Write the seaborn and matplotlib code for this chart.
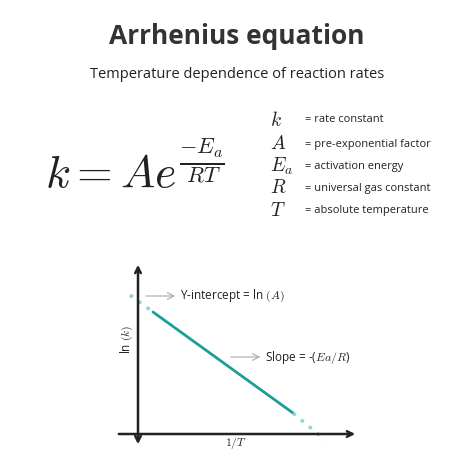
import matplotlib
matplotlib.use("Agg")
import matplotlib.pyplot as plt
import seaborn as sns

sns.set_theme(style="white")
plt.rcParams["font.family"] = ["Open Sans", "DejaVu Sans"]
plt.rcParams["mathtext.fontset"] = "cm"

TEAL = "#1a9e9a"
DOT = "#8fd3d0"

# line in plot units (origin = axes crossing)
solid_x = [0.15, 1.55]
solid_y = [1.22, 0.21]
dot_left_x = [-0.08, 0.15]
dot_left_y = [1.39, 1.22]
dot_right_x = [1.55, 1.87]
dot_right_y = [0.21, -0.06]

legend_symbols = [r"$k$", r"$A$", r"$E_a$", r"$R$", r"$T$"]
legend_texts = ["= rate constant", "= pre-exponential factor", "= activation energy",
                "= universal gas constant", "= absolute temperature"]

fig = plt.figure(figsize=(4.74, 4.74), dpi=100)
W = H = 474.0


def fx(px):
    return px / W


def fy(py):
    return 1 - py / H


fig.text(0.5, fy(37), "Arrhenius equation", ha="center", va="center",
         fontsize=19, fontweight="bold", color="#333333")
fig.text(0.5, fy(74), "Temperature dependence of reaction rates", ha="center",
         va="center", fontsize=10.5, color="#222222")
fig.text(fx(45), fy(172), r"$k = Ae^{\frac{-E_a}{RT}}$", ha="left", va="center",
         fontsize=33, color="#222222")

for i, (sym, txt) in enumerate(zip(legend_symbols, legend_texts)):
    py = [120, 144, 166, 188, 211][i]
    fig.text(fx(270), fy(py), sym, ha="left", va="center", fontsize=14, color="#222222")
    fig.text(fx(305), fy(py), txt, ha="left", va="center", fontsize=8, color="#222222")

# axes: origin at pixel (138, 434), 100 px per unit
x0, x1 = -0.28, 2.22
y0, y1 = -0.21, 1.79
ax = fig.add_axes([fx(138 + x0 * 100), fy(434 - y0 * 100),
                   (x1 - x0) * 100 / W, (y1 - y0) * 100 / H])
ax.set_xlim(x0, x1)
ax.set_ylim(y0, y1)
ax.axis("off")

ax.annotate("", xy=(-0.22, 0), xytext=(2.2, 0),
            arrowprops=dict(arrowstyle="<-", color="#222222", lw=1.8, mutation_scale=10))
ax.annotate("", xy=(0, -0.13), xytext=(0, 1.72),
            arrowprops=dict(arrowstyle="<->", color="#222222", lw=1.8, mutation_scale=10))

sns.lineplot(x=solid_x, y=solid_y, ax=ax, color=TEAL, lw=2)
sns.lineplot(x=dot_left_x, y=dot_left_y, ax=ax, color=DOT, lw=2.5, linestyle=(0, (1, 2)))
sns.lineplot(x=dot_right_x, y=dot_right_y, ax=ax, color=DOT, lw=2.5, linestyle=(0, (1, 2)))

ax.annotate("", xy=(0.4, 1.38), xytext=(0.05, 1.38),
            arrowprops=dict(arrowstyle="->", color="#aaaaaa", lw=0.8))
ax.text(0.42, 1.38, r"Y-intercept = ln $\mathit{(A)}$", va="center", fontsize=8.5, color="#222222")
ax.annotate("", xy=(1.25, 0.77), xytext=(0.9, 0.77),
            arrowprops=dict(arrowstyle="->", color="#aaaaaa", lw=0.8))
ax.text(1.27, 0.77, r"Slope = -($\mathit{Ea/R}$)", va="center", fontsize=8.5, color="#222222")
ax.text(0.98, -0.09, r"$\mathit{1/T}$", ha="center", va="center", fontsize=8.5, color="#222222")
ax.text(-0.11, 0.95, r"ln $\mathit{(k)}$", ha="center", va="center", fontsize=8.5,
        rotation=90, color="#222222")

fig.savefig("out.png", dpi=100, facecolor="white")
